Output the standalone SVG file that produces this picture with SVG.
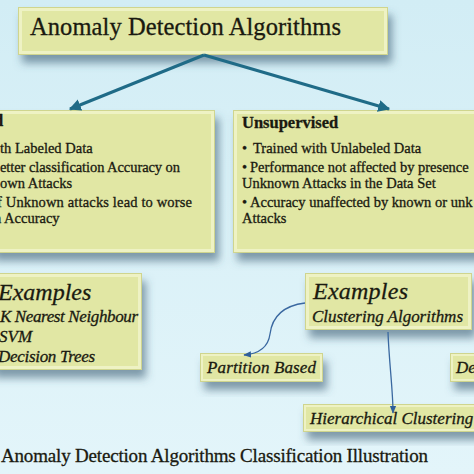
<svg xmlns="http://www.w3.org/2000/svg" width="474" height="474" viewBox="0 0 474 474">
<defs>
<linearGradient id="bg" x1="0" y1="0" x2="0" y2="1">
<stop offset="0" stop-color="#d2edf5"/>
<stop offset="1" stop-color="#e3f5fa"/>
</linearGradient>
<filter id="sh" x="-20%" y="-20%" width="140%" height="170%">
<feDropShadow dx="4" dy="8" stdDeviation="4.5" flood-color="#3a5e74" flood-opacity="0.6"/>
</filter>
<marker id="big" viewBox="0 0 10 10" refX="9" refY="5" markerWidth="4" markerHeight="4" orient="auto" markerUnits="strokeWidth">
<path d="M0,0 L10,5 L0,10 z" fill="#1f6b87"/>
</marker>
<marker id="small" viewBox="0 0 10 10" refX="9" refY="5" markerWidth="6" markerHeight="6" orient="auto" markerUnits="strokeWidth">
<path d="M0,1 L10,5 L0,9 z" fill="#2f5f9a"/>
</marker>
<style>
.outer{fill:#eef2c4;filter:url(#sh)}
.inner{fill:#e1e7a4}
.rim{fill:none;stroke:#cfd58e;stroke-width:1}
.t{font-family:"Liberation Serif","Times New Roman",serif;fill:#1a1a10;stroke:#1a1a10;stroke-width:0.3}
.body{font-size:14.5px}
.it{font-style:italic}
.big{stroke:#1f6b87;stroke-width:3;fill:none}
.thin{stroke:#3a68a0;stroke-width:1.3;fill:none}
</style>
</defs>
<rect x="0" y="0" width="474" height="474" fill="url(#bg)"/>

<g id="title">
<rect class="outer" x="18" y="7" width="370" height="48"/>
<rect class="inner" x="22" y="11" width="362" height="40"/>
<rect class="rim" x="18.5" y="7.5" width="369" height="47"/>
<text class="t" x="30" y="35" font-size="24.5" textLength="311">Anomaly Detection Algorithms</text>
</g>

<g id="supervised">
<rect class="outer" x="-10" y="110" width="225" height="143"/>
<rect class="inner" x="-6" y="114" width="217" height="135"/>
<rect class="rim" x="-9.5" y="110.5" width="224" height="142"/>
<text class="t" x="-6" y="126" font-size="16.5" font-weight="bold">d</text>
<text class="t body" x="0" y="153">th Labeled Data</text>
<text class="t body" x="0" y="172" textLength="180">etter classification Accuracy on</text>
<text class="t body" x="0" y="188">own Attacks</text>
<text class="t body" x="-3" y="207" textLength="195">f Unknown  attacks lead to worse</text>
<text class="t body" x="-6" y="223">n Accuracy</text>
</g>

<g id="unsupervised">
<rect class="outer" x="233" y="110" width="251" height="143"/>
<rect class="inner" x="237" y="114" width="243" height="135"/>
<rect class="rim" x="233.5" y="110.5" width="250" height="142"/>
<text class="t" x="242" y="128" font-size="16.5" font-weight="bold">Unsupervised</text>
<text class="t body" y="153"><tspan x="242">•</tspan><tspan x="253">Trained with Unlabeled Data</tspan></text>
<text class="t body" y="172"><tspan x="242">•</tspan><tspan x="250">Performance not affected by presence</tspan></text>
<text class="t body" x="242" y="188">Unknown  Attacks in the Data Set</text>
<text class="t body" y="207"><tspan x="242">•</tspan><tspan x="250">Accuracy unaffected by known or unk</tspan></text>
<text class="t body" x="242" y="223">Attacks</text>
</g>

<g id="examples-left">
<rect class="outer" x="-10" y="273" width="152" height="97"/>
<rect class="inner" x="-6" y="277" width="144" height="89"/>
<rect class="rim" x="-9.5" y="273.5" width="151" height="96"/>
<text class="t it" x="-2" y="300" font-size="24">Examples</text>
<text class="t it" x="0" y="322" font-size="17" textLength="138">K Nearest Neighbour</text>
<text class="t it" x="-1" y="342" font-size="17">SVM</text>
<text class="t it" x="-2" y="362" font-size="17" textLength="97">Decision Trees</text>
</g>

<g id="examples-right">
<rect class="outer" x="305" y="273" width="167" height="57"/>
<rect class="inner" x="309" y="277" width="159" height="49"/>
<rect class="rim" x="305.5" y="273.5" width="166" height="56"/>
<text class="t it" x="313" y="299" font-size="24" textLength="95">Examples</text>
<text class="t it" x="312" y="322" font-size="17" textLength="151">Clustering Algorithms</text>
</g>

<g id="partition">
<rect class="outer" x="200" y="353" width="123" height="29"/>
<rect class="inner" x="203" y="356" width="117" height="23"/>
<rect class="rim" x="200.5" y="353.5" width="122" height="28"/>
<text class="t it" x="207" y="373" font-size="17" textLength="109">Partition Based</text>
</g>

<g id="density">
<rect class="outer" x="450" y="353" width="40" height="29"/>
<rect class="inner" x="453" y="356" width="40" height="23"/>
<rect class="rim" x="450.5" y="353.5" width="40" height="28"/>
<text class="t it" x="456" y="373" font-size="17">De</text>
</g>

<g id="hierarchical">
<rect class="outer" x="303" y="404" width="190" height="28"/>
<rect class="inner" x="306" y="407" width="190" height="22"/>
<rect class="rim" x="303.5" y="404.5" width="190" height="27"/>
<text class="t it" x="310" y="424" font-size="17">Hierarchical Clustering</text>
</g>

<g id="connectors">
<path class="big" d="M204,55 L70,109" marker-end="url(#big)"/>
<path class="big" d="M204,55 L389,109" marker-end="url(#big)"/>
<path class="thin" d="M305,303 C281,306 272,318 270,334 C268,349 256,354 244,355" marker-end="url(#small)"/>
<path class="thin" d="M388,332 C389,362 393,390 393,413" marker-end="url(#small)"/>
</g>

<text class="t" x="1" y="462" font-size="19" textLength="427">Anomaly Detection Algorithms Classification Illustration</text>
</svg>
